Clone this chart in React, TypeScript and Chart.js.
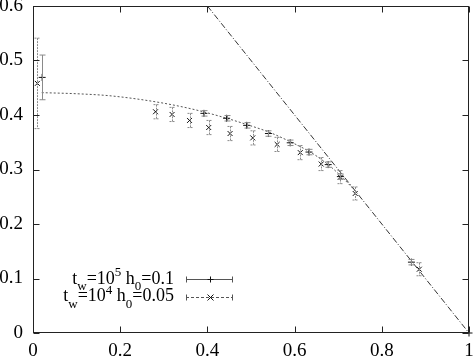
import React, { useEffect, useRef } from "react";
import { Chart, registerables } from "chart.js";

Chart.register(...registerables);

// Series 1: t_w=10^5 h_0=0.1  ("+" markers, solid error bars)
const S1_X = [0.021, 0.392, 0.444, 0.490, 0.540, 0.590, 0.633, 0.677, 0.705, 0.868, 1.0];
const S1_Y = [0.469, 0.403, 0.394, 0.381, 0.366, 0.349, 0.332, 0.309, 0.287, 0.130, 0.0];
const S1_ERR = [0.041, 0.005, 0.005, 0.005, 0.005, 0.005, 0.005, 0.005, 0.005, 0.005, 0.0];

// Series 2: t_w=10^4 h_0=0.05  ("x" markers, dashed error bars)
const S2_X = [0.010, 0.281, 0.319, 0.359, 0.403, 0.452, 0.504, 0.560, 0.613, 0.661, 0.705, 0.739, 0.886];
const S2_Y = [0.458, 0.406, 0.401, 0.390, 0.377, 0.366, 0.358, 0.346, 0.331, 0.310, 0.286, 0.256, 0.117];
const S2_ERR = [0.083, 0.013, 0.013, 0.013, 0.013, 0.013, 0.013, 0.013, 0.013, 0.012, 0.012, 0.012, 0.012];

// Fitted curve (short dashes)
const FIT_X = [0.02, 0.10, 0.18, 0.29, 0.37, 0.44, 0.50, 0.54, 0.59, 0.64, 0.68, 0.71, 0.74];
const FIT_Y = [0.441, 0.439, 0.435, 0.423, 0.410, 0.395, 0.380, 0.369, 0.351, 0.330, 0.307, 0.285, 0.260];

// Straight line (dash-dot)
const LINE_X = [0.4, 1.0];
const LINE_Y = [0.6, 0.0];

const X_TICKS = [0, 0.2, 0.4, 0.6, 0.8, 1];
const X_LABELS = ["0", "0.2", "0.4", "0.6", "0.8", "1"];
const Y_TICKS = [0, 0.1, 0.2, 0.3, 0.4, 0.5, 0.6];
const Y_LABELS = ["0", "0.1", "0.2", "0.3", "0.4", "0.5", "0.6"];

// Legend text pieces: [text, kind]
const LEGEND_1: [string, string][] = [["t", "n"], ["w", "sub"], ["=10", "n"], ["5", "sup"], [" h", "n"], ["0", "sub"], ["=0.1", "n"]];
const LEGEND_2: [string, string][] = [["t", "n"], ["w", "sub"], ["=10", "n"], ["4", "sup"], [" h", "n"], ["0", "sub"], ["=0.05", "n"]];

const FONT = '"Liberation Serif", "Times New Roman", serif';

const zip = (xs: number[], ys: number[]) => xs.map((x, i) => ({ x, y: ys[i] }));

const errorBarPlugin = {
  id: "errorBars",
  afterDatasetsDraw(chart: any) {
    const { ctx, scales } = chart;
    const xs = scales.x, ys = scales.y;
    const draw = (X: number[], Y: number[], E: number[], dash: number[]) => {
      ctx.save();
      ctx.strokeStyle = "#8a8a8a";
      ctx.lineWidth = 1;
      ctx.setLineDash(dash);
      X.forEach((xv, i) => {
        if (!E[i]) return;
        const px = Math.round(xs.getPixelForValue(xv)) + 0.5;
        const pt = ys.getPixelForValue(Y[i] + E[i]);
        const pb = ys.getPixelForValue(Y[i] - E[i]);
        ctx.beginPath();
        ctx.moveTo(px, pt);
        ctx.lineTo(px, pb);
        ctx.moveTo(px - 3, pt);
        ctx.lineTo(px + 3, pt);
        ctx.moveTo(px - 3, pb);
        ctx.lineTo(px + 3, pb);
        ctx.stroke();
      });
      ctx.restore();
    };
    draw(S1_X, S1_Y, S1_ERR, []);
    draw(S2_X, S2_Y, S2_ERR, [2, 1]);
  },
};

const framePlugin = {
  id: "frame",
  afterDraw(chart: any) {
    const { ctx, chartArea, scales } = chart;
    const l = Math.round(chartArea.left) + 0.5;
    const r = Math.round(chartArea.right) - 0.5;
    const t = Math.round(chartArea.top) + 0.5;
    const b = Math.round(chartArea.bottom) - 0.5;
    ctx.save();
    ctx.strokeStyle = "#222";
    ctx.lineWidth = 1;
    ctx.setLineDash([]);
    ctx.strokeRect(l, t, r - l, b - t);
    const tl = 6;
    ctx.beginPath();
    X_TICKS.forEach((v) => {
      const px = Math.round(scales.x.getPixelForValue(v)) + 0.5;
      ctx.moveTo(px, b);
      ctx.lineTo(px, b - tl);
      ctx.moveTo(px, t);
      ctx.lineTo(px, t + tl);
    });
    Y_TICKS.forEach((v) => {
      const py = Math.round(scales.y.getPixelForValue(v)) + 0.5;
      ctx.moveTo(l, py);
      ctx.lineTo(l + tl, py);
      ctx.moveTo(r, py);
      ctx.lineTo(r - tl, py);
    });
    ctx.stroke();

    // Legend
    const drawEntry = (parts: [string, string][], yc: number, kind: string) => {
      const rightEdge = chartArea.left + 141;
      const main = "18px " + FONT;
      const small = "13px " + FONT;
      let total = 0;
      parts.forEach(([txt, k]) => {
        ctx.font = k === "n" ? main : small;
        total += ctx.measureText(txt).width;
      });
      let x = rightEdge - total;
      ctx.fillStyle = "#000";
      ctx.textBaseline = "middle";
      ctx.textAlign = "left";
      parts.forEach(([txt, k]) => {
        ctx.font = k === "n" ? main : small;
        const dy = k === "sub" ? 8 : k === "sup" ? -6 : 0;
        ctx.fillText(txt, x, yc + dy);
        x += ctx.measureText(txt).width;
      });
      const x0 = chartArea.left + 153;
      const x1 = chartArea.left + 200;
      const ly = Math.round(yc) + 0.5;
      ctx.strokeStyle = "#555";
      ctx.lineWidth = 1;
      ctx.setLineDash(kind === "plus" ? [] : [3, 2]);
      ctx.beginPath();
      ctx.moveTo(x0, ly);
      ctx.lineTo(x1, ly);
      ctx.stroke();
      ctx.setLineDash([]);
      ctx.beginPath();
      ctx.moveTo(x0 + 0.5, ly - 3);
      ctx.lineTo(x0 + 0.5, ly + 3);
      ctx.moveTo(x1 - 0.5, ly - 3);
      ctx.lineTo(x1 - 0.5, ly + 3);
      ctx.stroke();
      const cx = Math.round((x0 + x1) / 2) + 0.5;
      ctx.strokeStyle = "#111";
      ctx.beginPath();
      if (kind === "plus") {
        ctx.moveTo(cx - 3, ly);
        ctx.lineTo(cx + 3, ly);
        ctx.moveTo(cx, ly - 3);
        ctx.lineTo(cx, ly + 3);
      } else {
        ctx.moveTo(cx - 3, ly - 3);
        ctx.lineTo(cx + 3, ly + 3);
        ctx.moveTo(cx - 3, ly + 3);
        ctx.lineTo(cx + 3, ly - 3);
      }
      ctx.stroke();
    };
    drawEntry(LEGEND_1, chartArea.bottom - 54, "plus");
    drawEntry(LEGEND_2, chartArea.bottom - 36.5, "cross");
    ctx.restore();
  },
};

export default function App() {
  const ref = useRef<HTMLCanvasElement | null>(null);
  useEffect(() => {
    if (!ref.current) return;
    const chart = new Chart(ref.current, {
      type: "scatter",
      data: {
        datasets: [
          {
            label: "t_w=10^5 h_0=0.1",
            data: zip(S1_X, S1_Y),
            pointStyle: "cross",
            pointRadius: 3.5,
            borderColor: "#111",
            backgroundColor: "#111",
            borderWidth: 1,
            showLine: false,
            clip: false,
          } as any,
          {
            label: "t_w=10^4 h_0=0.05",
            data: zip(S2_X, S2_Y),
            pointStyle: "crossRot",
            pointRadius: 3.5,
            borderColor: "#111",
            backgroundColor: "#111",
            borderWidth: 1,
            showLine: false,
            clip: false,
          } as any,
          {
            label: "fit",
            data: zip(FIT_X, FIT_Y),
            showLine: true,
            pointRadius: 0,
            borderColor: "#555",
            borderWidth: 1,
            borderDash: [2, 2],
            cubicInterpolationMode: "monotone",
          } as any,
          {
            label: "line",
            data: zip(LINE_X, LINE_Y),
            showLine: true,
            pointRadius: 0,
            borderColor: "#333",
            borderWidth: 1,
            borderDash: [6, 2, 1, 2],
          } as any,
        ],
      },
      options: {
        animation: false,
        responsive: false,
        maintainAspectRatio: false,
        events: [],
        layout: { padding: { top: 6, right: 4, left: 0, bottom: 0 } },
        plugins: { legend: { display: false }, tooltip: { enabled: false } },
        scales: {
          x: {
            type: "linear",
            min: 0,
            max: 1,
            afterBuildTicks: (s: any) => {
              s.ticks = X_TICKS.map((v) => ({ value: v }));
            },
            afterFit: (s: any) => {
              s.height = 26;
              s.paddingLeft = 0;
              s.paddingRight = 0;
            },
            grid: { display: false, drawTicks: false },
            border: { display: false },
            ticks: {
              color: "#000",
              padding: 7,
              maxRotation: 0,
              autoSkip: false,
              font: { family: FONT, size: 19 },
              callback: (v: any) => {
                const i = X_TICKS.findIndex((t) => Math.abs(t - Number(v)) < 1e-9);
                return i >= 0 ? X_LABELS[i] : "";
              },
            },
          },
          y: {
            type: "linear",
            min: 0,
            max: 0.6,
            afterBuildTicks: (s: any) => {
              s.ticks = Y_TICKS.map((v) => ({ value: v }));
            },
            afterFit: (s: any) => {
              s.width = 33;
              s.paddingTop = 0;
              s.paddingBottom = 0;
            },
            grid: { display: false, drawTicks: false },
            border: { display: false },
            ticks: {
              color: "#000",
              padding: 10,
              autoSkip: false,
              font: { family: FONT, size: 19 },
              callback: (v: any) => {
                const i = Y_TICKS.findIndex((t) => Math.abs(t - Number(v)) < 1e-9);
                return i >= 0 ? Y_LABELS[i] : "";
              },
            },
          },
        },
      },
      plugins: [errorBarPlugin, framePlugin],
    });
    return () => chart.destroy();
  }, []);
  return (
    <div style={{ position: "absolute", left: 0, top: 0, width: 474, height: 359, background: "#fff" }}>
      <canvas ref={ref} width={474} height={359} style={{ display: "block" }} />
    </div>
  );
}
